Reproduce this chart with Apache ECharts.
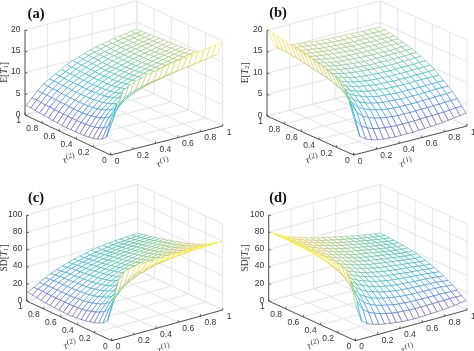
<!DOCTYPE html>
<html><head><meta charset="utf-8">
<style>html,body{margin:0;padding:0;background:#fff}#c{width:474px;height:351px}</style>
<script src="https://cdn.jsdelivr.net/npm/echarts@6/dist/echarts.min.js"></script>
</head><body><div id="c"></div>
<script>
const tau=[0.01,0.062,0.114,0.166,0.218,0.27,0.322,0.374,0.426,0.478,0.53,0.582,0.634,0.686,0.738,0.79,0.842,0.894,0.946,1];
const tauTicks=[0,0.2,0.4,0.6,0.8,1];
const meanTicks=[0,5,10,15,20];
const sdTicks=[0,20,40,60,80,100];
// rows: tau2 index, columns: tau1 index
const E_T1=[
[8,11.5,14,15,15.6,16,16.4,16.7,17,17.3,17.5,17.8,18,18.2,18.5,18.7,18.9,19.1,19.4,19.6],
[3.6,7,10.2,11.6,12.4,12.9,13.3,13.6,13.9,14.1,14.4,14.6,14.8,15,15.2,15.4,15.6,15.8,16.1,16.3],
[2.6,5.2,7.8,9.4,10.5,11.2,11.8,12.3,12.7,13,13.3,13.6,13.9,14.1,14.4,14.6,14.9,15.1,15.4,15.6],
[2.1,4.4,6.6,8.2,9.4,10.2,10.9,11.4,11.9,12.3,12.6,13,13.3,13.6,13.9,14.2,14.5,14.7,15,15.2],
[1.8,3.9,5.9,7.4,8.6,9.5,10.2,10.8,11.3,11.8,12.2,12.5,12.9,13.2,13.5,13.8,14.1,14.4,14.7,14.9],
[1.6,3.6,5.4,6.9,8,9,9.7,10.3,10.9,11.4,11.8,12.2,12.6,12.9,13.2,13.5,13.8,14.1,14.4,14.7],
[1.5,3.4,5.1,6.5,7.6,8.6,9.3,10,10.5,11,11.5,11.9,12.3,12.6,13,13.3,13.6,13.9,14.2,14.5],
[1.4,3.3,4.9,6.2,7.3,8.3,9,9.7,10.3,10.8,11.3,11.7,12.1,12.4,12.8,13.1,13.4,13.7,14,14.4],
[1.4,3.2,4.7,6,7.1,8,8.8,9.5,10.1,10.6,11.1,11.5,11.9,12.3,12.6,13,13.3,13.6,13.9,14.2],
[1.4,3.2,4.6,5.9,7,7.9,8.7,9.3,9.9,10.5,11,11.4,11.8,12.2,12.5,12.9,13.2,13.5,13.8,14.1],
[1.4,3.2,4.6,5.8,6.9,7.8,8.5,9.2,9.8,10.4,10.9,11.3,11.7,12.1,12.4,12.8,13.1,13.4,13.7,14],
[1.4,3.2,4.6,5.8,6.8,7.7,8.5,9.2,9.8,10.3,10.8,11.2,11.6,12,12.4,12.7,13,13.3,13.6,13.9],
[1.5,3.2,4.6,5.8,6.8,7.7,8.4,9.1,9.7,10.3,10.8,11.2,11.6,12,12.3,12.6,12.9,13.2,13.5,13.8],
[1.6,3.3,4.7,5.8,6.8,7.7,8.4,9.1,9.7,10.2,10.7,11.2,11.6,11.9,12.3,12.6,12.9,13.2,13.5,13.8],
[1.7,3.3,4.7,5.9,6.8,7.7,8.4,9.1,9.7,10.2,10.7,11.2,11.6,11.9,12.3,12.6,12.9,13.1,13.4,13.7],
[1.8,3.4,4.8,5.9,6.9,7.7,8.5,9.1,9.7,10.3,10.7,11.2,11.6,11.9,12.3,12.5,12.8,13.1,13.3,13.6],
[1.9,3.4,4.8,6,6.9,7.7,8.5,9.2,9.8,10.3,10.8,11.2,11.6,11.9,12.3,12.5,12.8,13,13.3,13.5],
[2,3.5,4.9,6,7,7.8,8.5,9.2,9.8,10.3,10.8,11.2,11.6,11.9,12.3,12.6,12.8,13,13.3,13.5],
[2.1,3.6,4.9,6.1,7,7.8,8.5,9.2,9.8,10.4,10.9,11.3,11.7,12,12.3,12.6,12.8,13,13.2,13.4],
[2.2,3.6,5,6.2,7,7.8,8.5,9.3,9.9,10.4,10.9,11.3,11.7,12,12.3,12.6,12.8,13,13.2,13.4]];
// rows: tau1 index, columns: tau2 index
const E_T2=[
[8.2,11.8,14.2,15.3,16,16.4,16.8,17.1,17.4,17.7,17.9,18.1,18.3,18.6,18.8,19,19.2,19.5,19.7,20],
[3.8,7.2,10.5,12,12.8,13.3,13.6,13.9,14.2,14.4,14.6,14.8,15,15.2,15.4,15.5,15.7,15.8,15.9,16],
[2.9,5.4,8.1,9.8,10.9,11.6,12.2,12.7,13.1,13.4,13.7,14,14.2,14.4,14.6,14.8,15,15.1,15.3,15.4],
[2.3,4.6,6.9,8.5,9.8,10.6,11.3,11.9,12.4,12.8,13.1,13.5,13.8,14.1,14.3,14.6,14.8,15,15.2,15.3],
[2,4.1,6.2,7.7,8.9,9.9,10.6,11.2,11.8,12.3,12.7,13,13.4,13.7,14,14.3,14.5,14.7,15,15.1],
[1.8,3.8,5.7,7.2,8.3,9.4,10.1,10.7,11.3,11.9,12.3,12.7,13.1,13.4,13.7,14,14.3,14.5,14.8,15],
[1.7,3.6,5.4,6.8,7.9,8.9,9.7,10.4,10.9,11.4,12,12.4,12.8,13.1,13.5,13.8,14.1,14.3,14.6,14.8],
[1.6,3.5,5.2,6.5,7.6,8.6,9.4,10.1,10.7,11.2,11.8,12.2,12.6,12.9,13.3,13.6,13.9,14.1,14.4,14.7],
[1.6,3.4,5,6.3,7.4,8.3,9.2,9.9,10.5,11,11.6,12,12.4,12.8,13.1,13.5,13.8,14,14.3,14.5],
[1.6,3.4,4.9,6.2,7.3,8.2,9.1,9.7,10.3,10.9,11.5,11.9,12.3,12.7,13,13.4,13.7,13.9,14.2,14.4],
[1.6,3.4,4.9,6.1,7.2,8.1,8.9,9.6,10.2,10.8,11.4,11.8,12.2,12.6,12.9,13.3,13.6,13.8,14.1,14.3],
[1.7,3.4,4.9,6.1,7.1,8,8.9,9.6,10.2,10.7,11.3,11.7,12.1,12.5,12.9,13.2,13.5,13.7,14,14.3],
[1.8,3.5,4.9,6.1,7.1,8,8.8,9.5,10.1,10.7,11.3,11.7,12.1,12.5,12.8,13.1,13.4,13.6,13.9,14.2],
[1.9,3.6,5,6.1,7.1,8,8.8,9.5,10.1,10.6,11.2,11.7,12.1,12.4,12.8,13.1,13.4,13.6,13.9,14.2],
[2,3.6,5,6.2,7.1,8,8.8,9.5,10.1,10.6,11.2,11.7,12.1,12.4,12.8,13.1,13.4,13.6,13.9,14.1],
[2.1,3.7,5.1,6.2,7.2,8,8.9,9.5,10.1,10.7,11.2,11.7,12.1,12.4,12.8,13,13.3,13.6,13.8,14.1],
[2.3,3.7,5.1,6.3,7.2,8,8.9,9.6,10.2,10.7,11.3,11.7,12.1,12.4,12.8,13,13.3,13.5,13.8,14],
[2.5,3.8,5.2,6.3,7.3,8.1,8.9,9.6,10.2,10.7,11.3,11.7,12.1,12.4,12.8,13.1,13.3,13.5,13.8,14],
[2.7,4,5.2,6.4,7.3,8.1,8.9,9.6,10.2,10.8,11.4,11.8,12.2,12.5,12.8,13.1,13.3,13.5,13.7,14],
[2.9,4,5.3,6.5,7.3,8.1,8.9,9.7,10.3,10.8,11.4,11.8,12.2,12.5,12.8,13.1,13.3,13.5,13.7,14]];
// rows: tau2 index, columns: tau1 index
const SD_T1=[
[40,65,74,77,78,78.5,79,79,79.2,79.4,79.5,79.6,79.6,79.6,79.6,79.6,79.6,79.6,79.5,79.5],
[20,40,52,58,63,66,68,69.5,70.5,71.5,72.3,73,73.5,74,74.3,74.6,74.9,75.1,75.3,75.5],
[15,29,40,47,53,57,60,62,64,65.5,66.8,67.8,68.7,69.4,70,70.5,71,71.4,71.7,72],
[12.5,24,33,40,46,50,53.5,56.5,58.5,60.5,62,63.3,64.5,65.5,66.3,67,67.6,68.1,68.6,69],
[10.5,21,29,35.5,41,45.5,49,52,54.5,56.5,58,59.5,61,62,63,64,64.8,65.4,66,66.5],
[9,18.5,26,32,37.5,42,45.5,48.5,51,53,55,56.5,58,59.2,60.4,61.4,62.2,63,63.5,64],
[8,17,24,30,35,39,43,46,48.5,50.5,52.5,54,55.5,56.8,58,59,60,60.8,61.4,62],
[7,15.5,22.5,28,33,37,40.5,43.5,46,48.5,50.3,52,53.5,54.8,56,57,58,58.8,59.5,60],
[6.3,14.5,21,26.5,31,35,38.5,41.5,44,46.5,48.3,50,51.5,52.8,54,55,56,56.8,57.4,58],
[5.8,14,20,25.5,30,33.5,37,40,42.5,44.8,46.7,48.3,49.8,51.1,52.3,53.3,54.2,55,55.8,56.5],
[5.7,13.5,19.5,24.5,28.8,32.5,35.8,38.7,41,43.2,45,46.7,48.2,49.5,50.7,51.7,52.7,53.5,54.3,55],
[5.7,13.3,19,24,28,31.5,34.8,37.5,39.8,42,43.8,45.4,46.9,48.2,49.4,50.4,51.3,52.1,52.8,53.5],
[5.9,13.3,18.7,23.5,27.5,31,34,36.6,38.9,41,42.7,44.3,45.7,47,48.1,49,49.9,50.6,51.3,52],
[6.2,13.3,18.5,23.2,27,30.3,33.3,35.8,38,40,41.7,43.2,44.6,45.8,46.9,47.8,48.6,49.3,50,50.5],
[6.6,13.4,18.4,23,26.6,29.8,32.6,35,37.2,39,40.7,42.2,43.5,44.6,45.6,46.5,47.2,47.9,48.5,49],
[7,13.5,18.3,22.8,26.2,29.3,32,34.3,36.4,38.2,39.8,41.2,42.4,43.5,44.4,45.3,46,46.6,47.2,47.8],
[7.6,13.6,18.2,22.7,26,29,31.5,33.8,35.7,37.4,38.9,40.2,41.4,42.4,43.3,44.1,44.8,45.4,46,46.5],
[8.3,13.8,18,22.5,25.7,28.5,31,33,34.9,36.5,38,39.2,40.4,41.4,42.2,43,43.7,44.3,44.8,45.3],
[9.1,13.9,17.8,21.6,24.8,27.5,30,32.2,34,35.7,37.2,38.5,39.6,40.6,41.4,42,42.6,43.2,43.7,44.2],
[10,13.5,17.5,21,24,26.8,29.3,31.5,33.4,35.2,36.8,38.2,39.3,40.2,41,41.6,42,42.4,42.7,43]];
// rows: tau1 index, columns: tau2 index
const SD_T2=[
[41,66,75,77.5,78.5,79,79.3,79.5,79.6,79.8,79.9,80,80,80,80,80,80,80,80,80],
[20.5,40.5,52.5,58.5,63.4,66.4,68.4,69.9,70.9,71.9,72.6,73.3,73.8,74.3,74.6,74.9,75.2,75.4,75.6,75.8],
[15.3,29.4,40.3,47.3,53.3,57.3,60.3,62.3,64.3,65.8,67,68,68.9,69.6,70.2,70.7,71.2,71.6,71.9,72.2],
[12.8,24.3,33.3,40.3,46.3,50.3,53.8,56.8,58.8,60.8,62.2,63.5,64.7,65.7,66.5,67.2,67.8,68.3,68.8,69.2],
[10.8,21.3,29.3,35.8,41.3,45.8,49.3,52.3,54.8,56.8,58.2,59.7,61.2,62.2,63.2,64.2,65,65.6,66.2,66.7],
[9.3,18.8,26.3,32.3,37.8,42.3,45.8,48.8,51.3,53.3,55.2,56.7,58.2,59.4,60.6,61.6,62.4,63.2,63.7,64.2],
[8.3,17.3,24.3,30.3,35.3,39.3,43.3,46.3,48.8,50.8,52.7,54.2,55.7,57,58.2,59.2,60.2,61,61.6,62.2],
[7.3,15.8,22.8,28.3,33.3,37.3,40.8,43.8,46.3,48.8,50.5,52.2,53.7,55,56.2,57.2,58.2,59,59.7,60.2],
[6.6,14.8,21.3,26.8,31.3,35.3,38.8,41.8,44.3,46.8,48.5,50.2,51.7,53,54.2,55.2,56.2,57,57.6,58.2],
[6.1,14.3,20.3,25.8,30.3,33.8,37.3,40.3,42.8,45,46.9,48.5,50,51.3,52.5,53.5,54.4,55.2,56,56.7],
[6,13.8,19.8,24.8,29,32.8,36,38.9,41.2,43.4,45.2,46.9,48.4,49.7,50.9,51.9,52.9,53.7,54.5,55.2],
[6,13.6,19.3,24.3,28.3,31.8,35,37.7,40,42.2,44,45.6,47.1,48.4,49.6,50.6,51.5,52.3,53,53.7],
[6.2,13.6,19,23.8,27.8,31.3,34.2,36.8,39.1,41.2,42.9,44.5,45.9,47.2,48.3,49.2,50.1,50.8,51.5,52.2],
[6.5,13.6,18.8,23.5,27.3,30.6,33.5,36,38.2,40.2,41.9,43.4,44.8,46,47.1,48,48.8,49.5,50.2,50.7],
[6.9,13.7,18.7,23.3,26.9,30.1,32.8,35.2,37.4,39.2,40.9,42.4,43.7,44.8,45.8,46.7,47.4,48.1,48.7,49.2],
[7.3,13.8,18.6,23.1,26.5,29.6,32.2,34.5,36.6,38.4,40,41.4,42.6,43.7,44.6,45.5,46.2,46.8,47.4,48],
[7.9,13.9,18.5,23,26.3,29.3,31.7,34,35.9,37.6,39.1,40.4,41.6,42.6,43.5,44.3,45,45.6,46.2,46.7],
[8.7,14.1,18.3,22.8,26,28.8,31.2,33.2,35.1,36.7,38.2,39.4,40.6,41.6,42.4,43.2,43.9,44.5,45,45.5],
[9.6,14.2,18.1,21.9,25.1,27.8,30.2,32.4,34.2,35.9,37.4,38.7,39.8,40.8,41.6,42.2,42.8,43.4,43.9,44.4],
[10.5,13.8,17.8,21.3,24.3,27.1,29.6,31.8,33.6,35.4,37,38.4,39.5,40.4,41.2,41.8,42.2,42.6,42.9,43.2]];

const STOPS=[0,0.07,0.14,0.25,0.375,0.5,0.625,0.75,0.875,1];
const COLORS=[[75,60,155],[85,70,178],[55,95,215],[35,135,220],[20,170,205],[50,185,165],[135,195,120],[205,195,90],[245,215,55],[250,245,30]];
function parula(t){t=Math.max(0,Math.min(1,t));let a=0;while(a<STOPS.length-2&&t>STOPS[a+1])a++;const f=(t-STOPS[a])/(STOPS[a+1]-STOPS[a]);
 const c=COLORS[a].map((v,k)=>Math.round(v+(COLORS[a+1][k]-v)*f));return `rgb(${c[0]},${c[1]},${c[2]})`;}

const panels=[
 {tag:'(a)',tagAt:[36,14],name:'E[',sub:'1',O:[110.7,155],X:[222.7,126],Y:[25,115],T:[25,30],zTicks:meanTicks,table:E_T1,rowsTau2:true,labelX:4},
 {tag:'(b)',tagAt:[278,13],name:'E[',sub:'2',O:[353.7,155],X:[467,126],Y:[267,116],T:[267,30],zTicks:meanTicks,table:E_T2,rowsTau2:false,labelX:245},
 {tag:'(c)',tagAt:[36,198],name:'SD[',sub:'1',O:[111.7,340.7],X:[222.7,310],Y:[26.7,301],T:[26.7,215],zTicks:sdTicks,table:SD_T1,rowsTau2:true,labelX:4},
 {tag:'(d)',tagAt:[278,198],name:'SD[',sub:'2',O:[355.3,340.7],X:[467,310],Y:[268.7,301],T:[268.7,215],zTicks:sdTicks,table:SD_T2,rowsTau2:false,labelX:245}
];
const TXT='#333333',GRID='#e6e6ea',AX='#444444',SANS='"Liberation Sans",Arial,sans-serif',SERIF='"Liberation Serif",serif';

function proj(p,t1,t2,z){const zm=p.zTicks[p.zTicks.length-1],f=z/zm;
 return [p.O[0]+t1*(p.X[0]-p.O[0])+t2*(p.Y[0]-p.O[0])+f*(p.T[0]-p.Y[0]),
         p.O[1]+t1*(p.X[1]-p.O[1])+t2*(p.Y[1]-p.O[1])+f*(p.T[1]-p.Y[1])];}
function val(p,i,j){return p.rowsTau2?p.table[j][i]:p.table[i][j];}

function frameItem(p){return function(params,api){
 const ch=[],zm=p.zTicks[p.zTicks.length-1];
 const C=(a)=>api.coord(a);
 const line=(a,b,col,w)=>ch.push({type:'line',shape:{x1:C(a)[0],y1:C(a)[1],x2:C(b)[0],y2:C(b)[1]},style:{stroke:col,lineWidth:w}});
 const text=(s,at,align,extra)=>{const c=C(at);ch.push(Object.assign({type:'text',x:c[0],y:c[1],style:{text:s,fontSize:8.5,fontFamily:SANS,fill:TXT,align:align,verticalAlign:'middle'}},extra||{}));};
 tauTicks.forEach(t=>{
  line(proj(p,t,0,0),proj(p,t,1,0),GRID,1);line(proj(p,0,t,0),proj(p,1,t,0),GRID,1);
  line(proj(p,t,1,0),proj(p,t,1,zm),GRID,1);line(proj(p,1,t,0),proj(p,1,t,zm),GRID,1);
 });
 p.zTicks.forEach(z=>{line(proj(p,0,1,z),proj(p,1,1,z),GRID,1);line(proj(p,1,1,z),proj(p,1,0,z),GRID,1);});
 line(proj(p,0,0,0),proj(p,1,0,0),AX,0.9);line(proj(p,0,0,0),proj(p,0,1,0),AX,0.9);line(proj(p,0,1,0),proj(p,0,1,zm),AX,0.9);
 tauTicks.forEach(t=>{
  const a=proj(p,t,0,0),b=proj(p,0,t,0);
  line(a,[a[0],a[1]-2.2],AX,0.8);line(b,[b[0],b[1]-2.2],AX,0.8);
  text(String(t),[a[0]+4,a[1]+6.3],'left');
  text(String(t),[b[0]-4,b[1]+6],'right');
 });
 p.zTicks.forEach(z=>{const a=proj(p,0,1,z);line(a,[a[0]+2.4,a[1]+0.6],AX,0.8);text(String(z),[a[0]-4.5,a[1]-0.5],'right');});
 const m1=C([p.O[0]+52,p.O[1]+7.5]),m2=C([p.O[0]-42,p.O[1]+3.5]);
 const tauLabel=(c,n)=>ch.push({type:'text',x:c[0],y:c[1],rotation:0.2,style:{text:'{t|τ}{s|('+n+')}',align:'center',verticalAlign:'middle',fill:TXT,rich:{t:{fontFamily:SERIF,fontSize:9.5,fill:TXT,lineHeight:12,verticalAlign:'bottom'},s:{fontFamily:SERIF,fontSize:7.5,fill:TXT,lineHeight:12,verticalAlign:'top'}}}});
 tauLabel(m1,1);tauLabel(m2,2);
 const zl=C([p.labelX,(p.Y[1]+p.T[1])/2]);
 ch.push({type:'text',x:zl[0],y:zl[1],rotation:Math.PI/2,style:{text:'{a|'+p.name+'}{i|T}{s|'+p.sub+'}{a|]}',align:'center',verticalAlign:'middle',fill:TXT,rich:{a:{fontFamily:SERIF,fontSize:9.5,fill:TXT,lineHeight:11},i:{fontFamily:SERIF,fontSize:9.5,fontStyle:'italic',fill:TXT,lineHeight:11},s:{fontFamily:SERIF,fontSize:6.5,fill:TXT,lineHeight:11,verticalAlign:'bottom'}}}});
 const tg=C(p.tagAt);
 ch.push({type:'text',x:tg[0],y:tg[1],style:{text:p.tag,fontFamily:SERIF,fontSize:14.5,fontWeight:'bold',fill:'#111',align:'center',verticalAlign:'middle'}});
 return {type:'group',children:ch};
};}

function cellItem(p){const all=p.table.flat();const zmax=Math.max(...all),zmin=Math.min(...all);
 const col=(a,b)=>parula(((a+b)/2-zmin)/(zmax-zmin));
 return function(params,api){
  const i=api.value(0),j=api.value(1);
  const q=[[i,j],[i+1,j],[i+1,j+1],[i,j+1]];
  const z=q.map(k=>val(p,k[0],k[1]));
  const pts=q.map((k,n)=>api.coord(proj(p,tau[k[0]],tau[k[1]],z[n])));
  const ch=[{type:'polygon',shape:{points:pts},style:{fill:'#fff',stroke:null}}];
  for(let n=0;n<4;n++){const m=(n+1)%4;
   ch.push({type:'line',shape:{x1:pts[n][0],y1:pts[n][1],x2:pts[m][0],y2:pts[m][1]},style:{stroke:col(z[n],z[m]),lineWidth:0.7,opacity:0.78}});}
  return {type:'group',children:ch};
 };}

const cells=[];for(let i=tau.length-2;i>=0;i--)for(let j=tau.length-2;j>=0;j--)cells.push([i,j]);
const series=[];
panels.forEach(p=>{
 series.push({type:'custom',name:p.tag+' frame',coordinateSystem:'cartesian2d',clip:false,silent:true,animation:false,data:[[0,0]],renderItem:frameItem(p),z:1});
 series.push({type:'custom',name:p.tag,coordinateSystem:'cartesian2d',clip:false,silent:true,animation:false,data:cells,renderItem:cellItem(p),z:2,progressive:0});
});
const chart=echarts.init(document.getElementById('c'),null,{renderer:'canvas'});
chart.setOption({animation:false,backgroundColor:'#fff',
 grid:{left:0,right:0,top:0,bottom:0},
 xAxis:{type:'value',min:0,max:474,show:false},
 yAxis:{type:'value',min:0,max:351,inverse:true,show:false},
 series:series});
</script></body></html>
